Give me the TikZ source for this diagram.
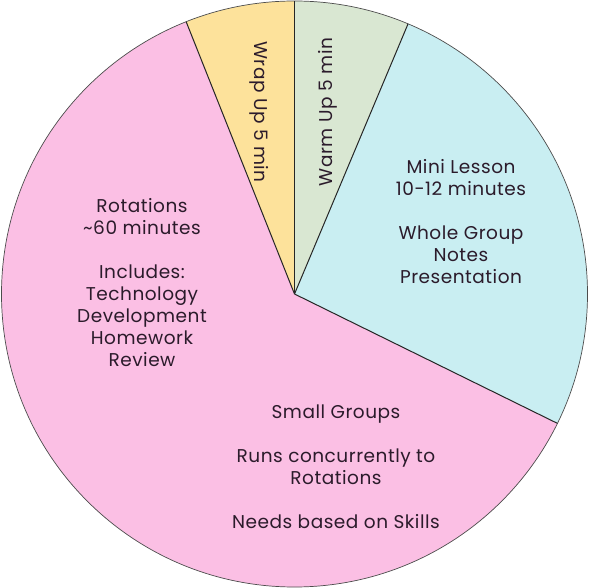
\documentclass[tikz,border=0pt]{standalone}
\usepackage{fontspec}
\setmainfont{Poppins}[LetterSpace=2.8]
\definecolor{pinkS}{HTML}{FBBFE4}
\definecolor{yellowS}{HTML}{FDE29B}
\definecolor{greenS}{HTML}{D9E7D2}
\definecolor{cyanS}{HTML}{C9EEF2}
\definecolor{txt}{HTML}{2B1B2B}
\begin{document}
\begin{tikzpicture}[x=1pt,y=1pt,
  slice/.style={draw=black!85,line width=1pt,line join=round},
  lbl/.style={text=txt,align=center,font=\fontsize{18.5}{22}\selectfont,inner sep=0pt}]
\useasboundingbox (-294.5,-294) rectangle (294.5,294);
\def\R{293}
\coordinate (c) at (0,0);
\fill[pinkS] (c) -- (-26.2:\R) arc (-26.2:-248.3:\R) -- cycle;
\fill[yellowS] (c) -- (111.7:\R) arc (111.7:90:\R) -- cycle;
\fill[greenS] (c) -- (90:\R) arc (90:67.2:\R) -- cycle;
\fill[cyanS] (c) -- (67.2:\R) arc (67.2:-26.2:\R) -- cycle;
\draw[black!70,line width=0.7pt] (c) circle (\R);
\draw[slice] (c) -- (111.7:\R);
\draw[slice] (c) -- (90:\R);
\draw[slice] (c) -- (67.2:\R);
\draw[slice] (c) -- (-26.2:\R);
\node[lbl,rotate=-90] (wrap) at (-35.5,182) {Wrap Up 5 min};
\node[lbl,rotate=90] (warm) at (33.5,182) {Warm Up 5 min};
\node[lbl] (mini) at (166.5,72) {Mini Lesson\\10-12 minutes\\[22pt]Whole Group\\Notes\\Presentation};
\node[lbl] (rot) at (-152.5,11) {Rotations\\\textasciitilde60 minutes\\[22pt]Includes:\\Technology\\Development\\Homework\\Review};
\node[lbl] (small) at (41.5,-173) {Small Groups\\[22pt]Runs concurrently to\\Rotations\\[22pt]Needs based on Skills};
\end{tikzpicture}
\end{document}
